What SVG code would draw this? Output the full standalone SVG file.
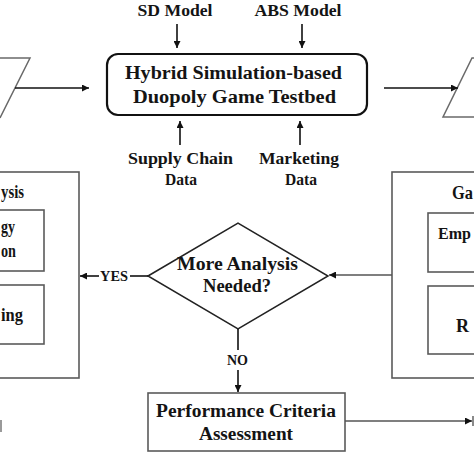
<svg xmlns="http://www.w3.org/2000/svg" width="474" height="474" viewBox="0 0 474 474">
<defs>
<marker id="ah" viewBox="0 0 10 10" refX="10" refY="5" markerWidth="7" markerHeight="7" markerUnits="userSpaceOnUse" orient="auto">
<path d="M0,0 L10,5 L0,10 z" fill="#111"/>
</marker>
</defs>
<style>
text{font-family:"Liberation Serif","Times New Roman",serif;font-weight:bold;fill:#141414;}
.t18{font-size:18px;}
.t17{font-size:17px;}
.t16{font-size:16px;}
.t14{font-size:14px;}
.box{fill:#fff;stroke:#5a5a5a;stroke-width:1.6;}
.para{fill:none;stroke:#6a6a6a;stroke-width:1.5;}
.conn{fill:none;stroke:#111;stroke-width:1.6;}
.connG{fill:none;stroke:#555;stroke-width:1.6;}
</style>
<rect width="474" height="474" fill="#fff"/>

<g id="input-parallelogram">
<polyline class="para" points="0,58 30,58 0,118"/>
</g>
<g id="output-parallelogram">
<polyline class="para" points="474,58 472,58 443,117 474,117"/>
</g>

<g id="sd-model"><text class="t16" x="175" y="16" text-anchor="middle" textLength="75" lengthAdjust="spacingAndGlyphs">SD Model</text></g>
<g id="abs-model"><text class="t16" x="298" y="16" text-anchor="middle" textLength="87" lengthAdjust="spacingAndGlyphs">ABS Model</text></g>

<g id="testbed">
<rect x="107" y="54" width="260" height="61" rx="11" ry="11" fill="#fff" stroke="#111" stroke-width="2.2"/>
<text class="t18" x="233.5" y="79" text-anchor="middle" textLength="217" lengthAdjust="spacingAndGlyphs">Hybrid Simulation-based</text>
<text class="t18" x="234.5" y="103" text-anchor="middle" textLength="203" lengthAdjust="spacingAndGlyphs">Duopoly Game Testbed</text>
</g>

<g id="supply-chain-data">
<text class="t17" x="180.5" y="164" text-anchor="middle" textLength="105" lengthAdjust="spacingAndGlyphs">Supply Chain</text>
<text class="t17" x="181" y="185" text-anchor="middle" textLength="32" lengthAdjust="spacingAndGlyphs">Data</text>
</g>
<g id="marketing-data">
<text class="t17" x="299" y="164" text-anchor="middle" textLength="80" lengthAdjust="spacingAndGlyphs">Marketing</text>
<text class="t17" x="301" y="185" text-anchor="middle" textLength="32" lengthAdjust="spacingAndGlyphs">Data</text>
</g>

<g id="left-analysis">
<rect class="box" x="-10" y="172" width="89" height="206"/>
<text class="t18" x="1" y="198" textLength="23" lengthAdjust="spacingAndGlyphs">ysis</text>
<rect class="box" x="-10" y="210" width="54" height="61"/>
<text class="t18" x="1" y="233" textLength="14" lengthAdjust="spacingAndGlyphs">gy</text>
<text class="t18" x="1" y="257" textLength="15" lengthAdjust="spacingAndGlyphs">on</text>
<rect class="box" x="-10" y="285" width="54" height="59"/>
<text class="t18" x="1" y="321" textLength="22" lengthAdjust="spacingAndGlyphs">ing</text>
</g>

<g id="right-game">
<rect class="box" x="392" y="172" width="92" height="206"/>
<text class="t18" x="452" y="199" textLength="21" lengthAdjust="spacingAndGlyphs">Ga</text>
<rect class="box" x="428" y="213" width="56" height="59"/>
<text class="t16" x="438" y="239">Emp</text>
<rect class="box" x="428" y="286" width="56" height="68"/>
<text class="t18" x="456" y="332">R</text>
</g>

<g id="decision">
<polygon points="148,276 238,223 328,276 238,329" fill="#fff" stroke="#222" stroke-width="1.5"/>
<text class="t18" x="237.5" y="270" text-anchor="middle" textLength="121" lengthAdjust="spacingAndGlyphs">More Analysis</text>
<text class="t18" x="237" y="292" text-anchor="middle" textLength="68" lengthAdjust="spacingAndGlyphs">Needed?</text>
</g>

<g id="performance">
<rect class="box" x="148" y="393" width="197" height="58"/>
<text class="t18" x="246" y="417" text-anchor="middle" textLength="180" lengthAdjust="spacingAndGlyphs">Performance Criteria</text>
<text class="t18" x="246" y="440" text-anchor="middle" textLength="94" lengthAdjust="spacingAndGlyphs">Assessment</text>
</g>

<g id="edge-fragments">
<rect x="0" y="420" width="2" height="12" fill="#9a9a9a"/>
<rect x="472" y="416" width="2" height="10" fill="#8a8a8a"/>
</g>

<g id="connectors">
<line class="conn" x1="15" y1="88" x2="89" y2="88" marker-end="url(#ah)"/>
<line class="conn" x1="384" y1="88" x2="458" y2="88" marker-end="url(#ah)"/>
<line class="conn" x1="177" y1="24" x2="177" y2="48" marker-end="url(#ah)"/>
<line class="conn" x1="302" y1="24" x2="302" y2="48" marker-end="url(#ah)"/>
<line class="conn" x1="180" y1="145" x2="180" y2="121" marker-end="url(#ah)"/>
<line class="conn" x1="300" y1="145" x2="300" y2="121" marker-end="url(#ah)"/>
<line class="connG" x1="392" y1="275" x2="329" y2="275" marker-end="url(#ah)"/>
<line class="conn" x1="148" y1="276" x2="130" y2="276"/>
<text class="t14" x="114" y="281" text-anchor="middle" textLength="28" lengthAdjust="spacingAndGlyphs">YES</text>
<line class="conn" x1="99" y1="276" x2="80" y2="276" marker-end="url(#ah)"/>
<line class="conn" x1="238" y1="329" x2="238" y2="350"/>
<text class="t14" x="237.5" y="365" text-anchor="middle" textLength="21" lengthAdjust="spacingAndGlyphs">NO</text>
<line class="conn" x1="238" y1="370" x2="238" y2="392" marker-end="url(#ah)"/>
<line class="connG" x1="345" y1="421" x2="472" y2="421" marker-end="url(#ah)"/>
</g>
</svg>
